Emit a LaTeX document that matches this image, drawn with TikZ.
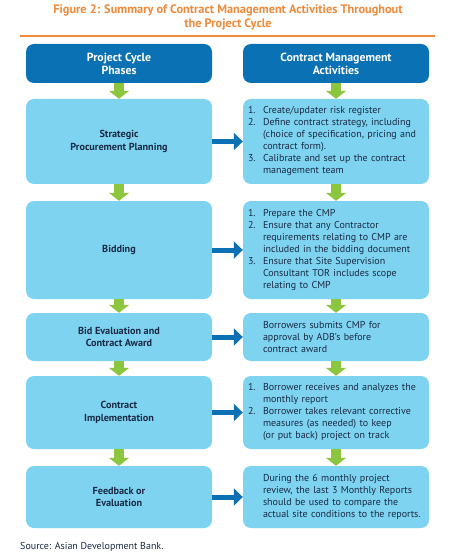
\documentclass[tikz,border=0pt]{standalone}
\usepackage{fontspec}
\setmainfont{PT Sans}
\usetikzlibrary{arrows.meta}
\definecolor{hdr}{HTML}{0A72B4}
\definecolor{lb}{HTML}{7DD3F0}
\definecolor{grn}{HTML}{8CC63F}
\definecolor{org}{HTML}{EE8A3A}
\definecolor{ink}{HTML}{1B2A44}
\newcommand\cmitem[1]{\makebox[15pt][l]{#1}}
\newcommand\cmind{\hspace*{15pt}}
\begin{document}
\begin{tikzpicture}[x=1pt,y=-1pt,
  box/.style={rounded corners=8pt, minimum width=186pt, inner sep=5pt, text=ink},
  hdrbox/.style={box, fill=hdr, text=white, align=center, minimum height=39pt,
     font=\bfseries\fontsize{11.8}{13}\selectfont},
  phase/.style={box, fill=lb, align=center, font=\bfseries\fontsize{10.2}{12.5}\selectfont},
  act/.style={box, fill=lb, align=left, text width=176pt, font=\fontsize{10}{12}\selectfont},
  garrow/.style={draw=grn, line width=10pt, -{Triangle[width=20pt,length=8pt]}},
  barrow/.style={draw=hdr, line width=5pt, -{Triangle[width=17pt,length=9pt]}}
]
\useasboundingbox[fill=white] (0,0) rectangle (474,553);
\node[text=org, align=center, font=\bfseries\fontsize{12.3}{14}\selectfont] (title) at (228,17)
  {Figure 2: Summary of Contract Management Activities Throughout\\the Project Cycle};
\coordinate (rl) at (20,36);
\coordinate (rr) at (435,36);
\draw[org, line width=1.2pt] (rl) -- (rr);

\node[hdrbox] (h1) at (119,63.5) {Project Cycle\\Phases};
\node[hdrbox] (h2) at (336,63.5) {Contract Management\\Activities};

\node[phase, minimum height=85pt] (p1) at (119,141.5) {Strategic\\Procurement Planning};
\node[act, minimum height=85pt] (a1) at (336,141.5)
 {\cmitem{1.}Create/updater risk register\\
  \cmitem{2.}Define contract strategy, including\\
  \cmind(choice of specification, pricing and\\
  \cmind contract form).\\
  \cmitem{3.}Calibrate and set up the contract\\
  \cmind management team};

\node[phase, minimum height=98pt] (p2) at (119,250) {Bidding};
\node[act, minimum height=98pt] (a2) at (336,250)
 {\cmitem{1.}Prepare the CMP\\
  \cmitem{2.}Ensure that any Contractor\\
  \cmind requirements relating to CMP are\\
  \cmind included in the bidding document\\
  \cmitem{3.}Ensure that Site Supervision\\
  \cmind Consultant TOR includes scope\\
  \cmind relating to CMP};

\node[phase, minimum height=48pt] (p3) at (119,337) {Bid Evaluation and\\Contract Award};
\node[act, minimum height=48pt] (a3) at (336,337)
 {\cmind Borrowers submits CMP for\\
  \cmind approval by ADB's before\\
  \cmind contract award};

\node[phase, minimum height=73pt] (p4) at (119,412.5) {Contract\\Implementation};
\node[act, minimum height=73pt] (a4) at (336,412.5)
 {\cmitem{1.}Borrower receives and analyzes the\\
  \cmind monthly report\\
  \cmitem{2.}Borrower takes relevant corrective\\
  \cmind measures (as needed) to keep\\
  \cmind (or put back) project on track};

\node[phase, minimum height=62pt] (p5) at (119,497) {Feedback or\\Evaluation};
\node[act, minimum height=62pt] (a5) at (336,497)
 {\cmind During the 6 monthly project\\
  \cmind review, the last 3 Monthly Reports\\
  \cmind should be used to compare the\\
  \cmind actual site conditions to the reports.};

\node[anchor=west, text=ink, inner sep=0pt, font=\fontsize{10}{12}\selectfont] (src) at (20,547)
  {Source: Asian Development Bank.};

\draw[garrow] (h1) -- (p1);
\draw[garrow] (p1) -- (p2);
\draw[garrow] (p2) -- (p3);
\draw[garrow] (p3) -- (p4);
\draw[garrow] (p4) -- (p5);
\draw[garrow] (h2) -- (a1);
\draw[garrow] (a1) -- (a2);
\draw[garrow] (a2) -- (a3);
\draw[garrow] (a3) -- (a4);
\draw[garrow] (a4) -- (a5);
\draw[barrow] (p1) -- (a1);
\draw[barrow] (p2) -- (a2);
\draw[barrow] (p3) -- (a3);
\draw[barrow] (p4) -- (a4);
\draw[barrow] (p5) -- (a5);
\end{tikzpicture}
\end{document}
